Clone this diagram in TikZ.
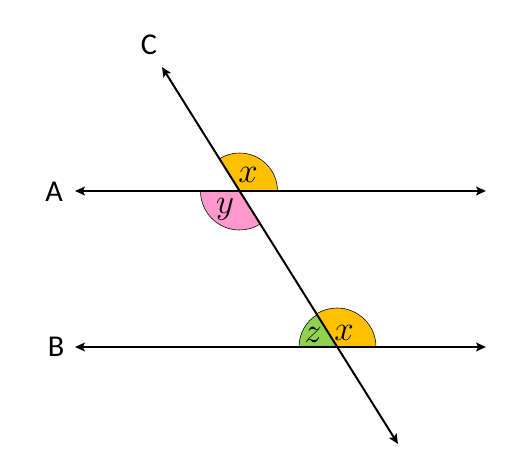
\documentclass[tikz,border=0pt]{standalone}
\usepackage{fontspec}
\setmainfont{Carlito}
\usetikzlibrary{arrows.meta}
\definecolor{angleorange}{HTML}{FFC000}
\definecolor{anglepink}{HTML}{FF99CC}
\definecolor{anglegreen}{HTML}{92D050}

\begin{document}
\begin{tikzpicture}[x=0.025cm, y=0.025cm]
                \tikzstyle{line} = [line width=1.4pt, {Stealth[length=7pt,width=6.2pt,inset=1.5pt]}-{Stealth[length=7pt,width=6.2pt,inset=1.5pt]}]
                \tikzstyle{sector} = [draw=black, line width=0.4pt]
                \tikzstyle{pointname} = [font=\fontsize{21.5}{26}\selectfont]
                \tikzstyle{anglename} = [font=\fontsize{24}{28}\selectfont]
                \useasboundingbox (0, 0) rectangle (514, 468);
                \coordinate (Aleft) at (75, 277);
                \coordinate (Aright) at (486, 277);
                \coordinate (Bleft) at (75, 121);
                \coordinate (Bright) at (486, 121);
                \coordinate (Ctop) at (162, 401);
                \coordinate (Cbottom) at (398, 24);
                \coordinate (PA) at (239.5, 277);
                \coordinate (PB) at (337, 121);
                \draw[sector, fill=angleorange] (PA) -- ++(38, 0) arc[start angle=0, end angle=122, radius=38] -- cycle;
                \draw[sector, fill=anglepink] (PA) -- ++(-39, 0) arc[start angle=180, end angle=302, radius=39] -- cycle;
                \draw[sector, fill=angleorange] (PB) -- ++(39, 0) arc[start angle=0, end angle=122, radius=39] -- cycle;
                \draw[sector, fill=anglegreen] (PB) -- ++(-38, 0) arc[start angle=180, end angle=122, radius=38] -- cycle;
                \draw[line] (Aleft) -- (Aright);
                \draw[line] (Bleft) -- (Bright);
                \draw[line] (Ctop) -- (Cbottom);
                \node[pointname] (labelA) at (54, 276) {A};
                \node[pointname] (labelB) at (56, 121) {B};
                \node[pointname] (labelC) at (149, 423) {C};
                \node[anglename] (xA) at (248, 293) {\(x\)};
                \node[anglename] (yA) at (225, 259) {\(y\)};
                \node[anglename] (zB) at (313, 133) {\(z\)};
                \node[anglename] (xB) at (344, 135) {\(x\)};
            \end{tikzpicture}
\end{document}
